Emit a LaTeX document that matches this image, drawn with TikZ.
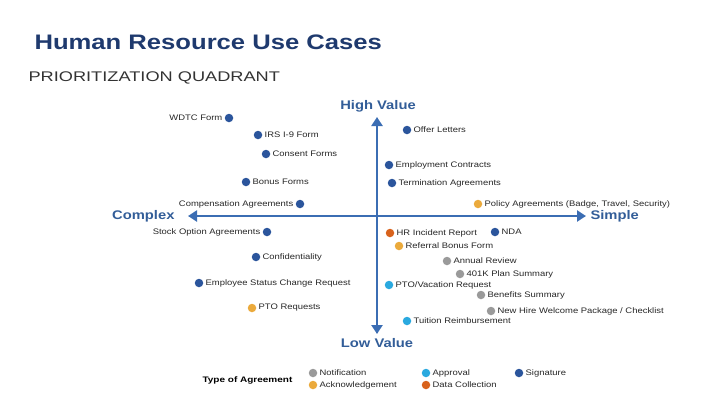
\documentclass[tikz,border=0pt]{standalone}
\usepackage{fontspec}
\usepackage{graphicx}
\setmainfont{Liberation Sans}
\usetikzlibrary{arrows.meta}
\definecolor{axisblue}{HTML}{3B6DB3}
\definecolor{titleblue}{HTML}{1F3A6E}
\definecolor{sig}{HTML}{2B559C}
\definecolor{ack}{HTML}{EBAA3C}
\definecolor{dat}{HTML}{D8621C}
\definecolor{app}{HTML}{2AA9DF}
\definecolor{noti}{HTML}{9A9A9A}
\newcommand{\wid}[1]{\scalebox{1.18}[1]{#1}}
\begin{document}
\begin{tikzpicture}[x=1pt,y=-1pt,
  lbl/.style={font=\fontsize{8}{9}\selectfont,inner sep=2pt,text=black!85},
  dot/.style={circle,minimum size=8.5pt,inner sep=0pt,fill=#1},
  ax/.style={draw=axisblue,line width=2.6pt,-{Triangle[length=9pt,width=11pt]}},
  axl/.style={font=\bfseries\fontsize{12.5}{14}\selectfont,text=axisblue!85!black}]
\useasboundingbox (0,0) rectangle (720,405);
\node[anchor=west,font=\bfseries\fontsize{21}{24}\selectfont,text=titleblue] (title) at (31,42) {\scalebox{1.22}[1]{Human Resource Use Cases}};
\node[anchor=west,font=\fontsize{14}{16}\selectfont,text=black!80] (sub) at (25,78) {\scalebox{1.3}[1]{PRIORITIZATION QUADRANT}};
\coordinate (ctr) at (377,216);
\coordinate (top) at (377,117);
\coordinate (bot) at (377,334);
\coordinate (lft) at (188,216);
\coordinate (rgt) at (586,216);
\draw[ax] (ctr) -- (top);
\draw[ax] (ctr) -- (bot);
\draw[ax] (ctr) -- (lft);
\draw[ax] (ctr) -- (rgt);
\node[axl] (hv) at (378,106) {\wid{High Value}};
\node[axl] (lv) at (377,343) {\wid{Low Value}};
\node[axl,anchor=east] (cx) at (178,216) {\wid{Complex}};
\node[axl,anchor=west] (sp) at (587,216) {\wid{Simple}};
\foreach \x/\y/\c/\t [count=\i] in {229/118/sig/WDTC Form, 300/204/sig/Compensation Agreements, 267/232/sig/Stock Option Agreements}{
  \node[dot=\c] (l\i) at (\x,\y) {};
  \node[lbl,anchor=east] (lt\i) at (l\i.west) {\wid{\t}};
}
\foreach \x/\y/\c/\t [count=\i] in {258/135/sig/IRS I-9 Form, 266/154/sig/Consent Forms, 246/182/sig/Bonus Forms, 256/257/sig/Confidentiality, 199/283/sig/Employee Status Change Request, 252/308/ack/PTO Requests, 407/130/sig/Offer Letters, 389/165/sig/Employment Contracts, 392/183/sig/Termination Agreements, 478/204/ack/{Policy Agreements (Badge, Travel, Security)}, 390/233/dat/HR Incident Report, 495/232/sig/NDA, 399/246/ack/Referral Bonus Form, 447/261/noti/Annual Review, 460/274/noti/401K Plan Summary, 389/285/app/{PTO/Vacation Request}, 481/295/noti/Benefits Summary, 491/311/noti/{New Hire Welcome Package / Checklist}, 407/321/app/Tuition Reimbursement}{
  \node[dot=\c] (r\i) at (\x,\y) {};
  \node[lbl,anchor=west] (rt\i) at (r\i.east) {\wid{\t}};
}
\node[anchor=west,font=\bfseries\fontsize{8}{9}\selectfont] (lg) at (199,380) {\scalebox{1.25}[1]{Type of Agreement}};
\foreach \x/\y/\c/\t [count=\i] in {313/373/noti/Notification, 313/385/ack/Acknowledgement, 426/373/app/Approval, 426/385/dat/Data Collection, 519/373/sig/Signature}{
  \node[dot=\c] (g\i) at (\x,\y) {};
  \node[lbl,anchor=west] (gt\i) at (g\i.east) {\wid{\t}};
}
\end{tikzpicture}
\end{document}
